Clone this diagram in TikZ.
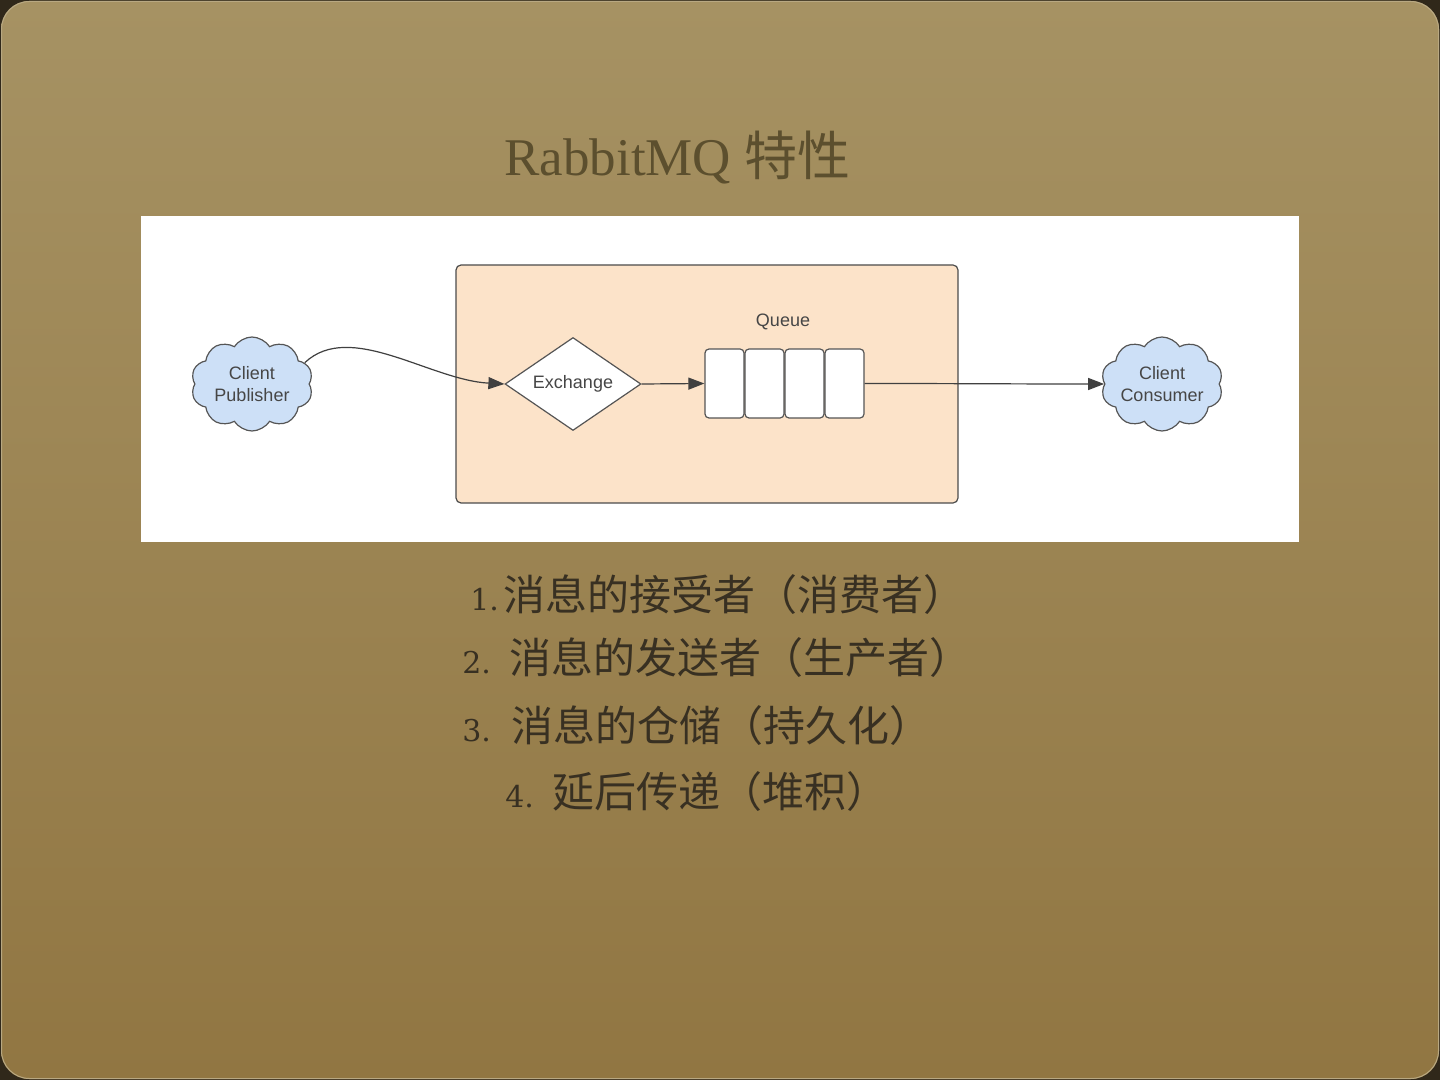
\documentclass[tikz,border=0pt]{standalone}
\usepackage{fontspec}
\setmainfont{Liberation Serif}
\newfontfamily\cjk{Noto Sans CJK SC}
\newfontfamily\lsans{Liberation Sans}
\newfontfamily\dserif{DejaVu Serif}
\usetikzlibrary{shapes.geometric,shapes.symbols,arrows.meta}
\definecolor{corner}{RGB}{48,40,26}
\definecolor{papertop}{RGB}{166,146,99}
\definecolor{papermid}{RGB}{158,134,86}
\definecolor{paperbot}{RGB}{145,118,66}
\definecolor{titlecol}{RGB}{92,79,46}
\definecolor{listcol}{RGB}{56,48,34}
\definecolor{boxfill}{RGB}{252,227,201}
\definecolor{cloudfill}{RGB}{205,224,247}
\definecolor{edge}{RGB}{85,85,85}
\definecolor{lbl}{RGB}{70,70,70}
\tikzset{
  cloudnode/.style={cloud, cloud puffs=10, cloud puff arc=115, cloud ignores aspect,
    minimum width=61pt, minimum height=47pt, inner sep=0pt, draw=edge, line width=0.6pt,
    fill=cloudfill, align=center, text=lbl, font=\lsans\fontsize{9pt}{11pt}\selectfont},
  cellnode/.style={rectangle, rounded corners=2pt, draw=edge, line width=0.6pt, fill=white,
    minimum width=19.5pt, minimum height=34.5pt, inner sep=0pt},
  exnode/.style={diamond, aspect=1.46, minimum width=68pt, minimum height=46.5pt, inner sep=0pt,
    draw=edge, line width=0.6pt, fill=white, text=lbl, font=\lsans\fontsize{9pt}{11pt}\selectfont},
  arr/.style={draw=black!75, line width=0.6pt, -{Triangle[length=8pt,width=6pt]}},
  listline/.style={anchor=base west, inner sep=0pt, text=listcol},
}
\newcommand{\numfont}{\dserif\fontsize{15pt}{17pt}\selectfont}
\newcommand{\listfont}{\cjk\fontsize{21pt}{24pt}\selectfont}
\begin{document}
\begin{tikzpicture}[x=0.5pt,y=-0.5pt]
\useasboundingbox (0,0) rectangle (1440,1080);
% slide background
\fill[corner] (0,0) rectangle (1440,1080);
\shade[top color=papertop, middle color=papermid, bottom color=paperbot, rounded corners=14pt]
  (1,1) rectangle (1439,1079);
\draw[color=papertop!80!white, line width=0.5pt, rounded corners=14pt] (1.5,1.5) rectangle (1438.5,1078.5);
% title
\node[anchor=base west, inner sep=0pt, text=titlecol, font=\fontsize{26.5pt}{30pt}\selectfont]
  (title) at (504,176) {RabbitMQ {\cjk 特性}};
% diagram panel
\fill[white] (141,216) rectangle (1299,542);
\draw[draw=edge!90!black, line width=0.6pt, fill=boxfill, rounded corners=2.5pt] (456,265) rectangle (958,503);
\node[cloudnode] (pub) at (252,384) {Client\\Publisher};
\node[cloudnode] (con) at (1162,384) {Client\\Consumer};
\node[exnode] (ex) at (573,384) {Exchange};
\node[cellnode] (q1) at (724.5,383.5) {};
\node[cellnode] (q2) at (764.5,383.5) {};
\node[cellnode] (q3) at (804.5,383.5) {};
\node[cellnode] (q4) at (844.5,383.5) {};
\node[text=lbl, font=\lsans\fontsize{9pt}{11pt}\selectfont] (qlabel) at (783,322) {Queue};
\draw[arr] (pub.22) .. controls (350,320) and (430,380) .. (ex.west);
\draw[arr] (ex.east) -- (q1.west);
\draw[arr] (q4.east) to[out=0,in=180] (con.west);
% list
\node[listline] (l1) at (470,610) {{\numfont 1.}\hspace{2pt}{\listfont 消息的接受者（消费者）}};
\node[listline] (l2) at (462,673) {{\numfont 2.}\hspace{9pt}{\listfont 消息的发送者（生产者）}};
\node[listline] (l3) at (462,741) {{\numfont 3.}\hspace{10pt}{\listfont 消息的仓储（持久化）}};
\node[listline] (l4) at (505,807) {{\numfont 4.}\hspace{9pt}{\listfont 延后传递（堆积）}};
\end{tikzpicture}
\end{document}
